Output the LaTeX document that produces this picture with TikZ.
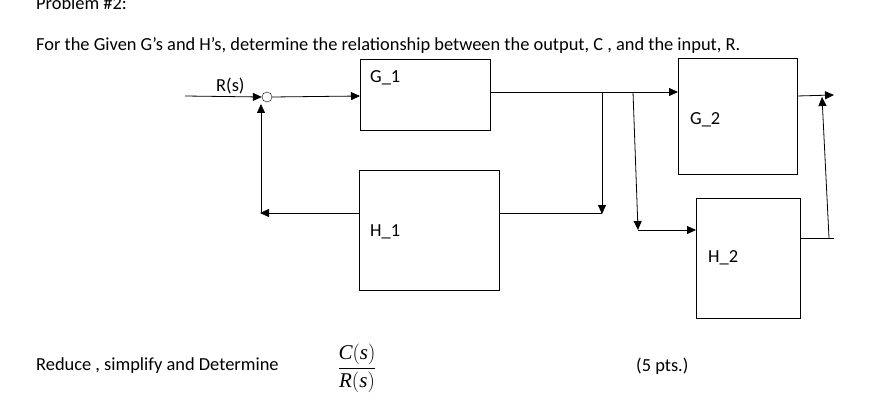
\documentclass[tikz,border=0pt]{standalone}
\usepackage{fontspec}
\setmainfont{Carlito}
\newfontfamily\tnr{Liberation Serif}
\usetikzlibrary{arrows.meta}
\begin{document}
\begin{tikzpicture}[x=1pt,y=-1pt,
  lbl/.style={font=\fontsize{18.4}{20}\selectfont,anchor=west,inner sep=0pt},
  ar/.style={thick,-{Triangle[length=9pt,width=8pt]}},
  ln/.style={thick}]
\useasboundingbox (0,0) rectangle (880,409);
\node[lbl] (t0) at (36,3) {Problem \#2:};
\node[lbl] (t1) at (36,45) {For the Given G’s and H’s, determine the relationship between the output, C , and the input, R.};
% blocks
\draw[thick] (360,59) rectangle (490,130); \node[lbl] (g1) at (370,78) {G\_1};
\draw[thick] (678,58) rectangle (797,174); \node[lbl] (g2) at (690,120) {G\_2};
\draw[thick] (359,170) rectangle (499,290); \node[lbl] (h1) at (370,232) {H\_1};
\draw[thick] (696,198) rectangle (800,318); \node[lbl] (h2) at (708,258) {H\_2};
\node[draw,circle,minimum size=10pt,inner sep=0pt] (sum) at (267,97) {};
\coordinate (rin) at (185,96);
\node[lbl] (rs) at (216,86) {R(s)};
\draw[ar] (rin) -- (sum.west);
\draw[ar] (sum.east) -- (360,96);
\draw[ar] (490,92) -- (678,92);
\draw[ar] (602,92) -- (602,214);
\draw[ln] (499,213) -- (602,213);
\draw[ar] (359,213) -- (260,213);
\draw[ar] (261,213) -- (261,104);
\draw[ar] (633,92) -- (638,230);
\draw[ar] (638,230) -- (696,230);
\draw[ar] (797,96) -- (834,95);
\draw[ln] (800,238) -- (834,238);
\draw[ar] (829,238) -- (822,97);
% bottom
\node[lbl] (t2) at (36,366) {Reduce , simplify and Determine};
\node (fr) at (357,368) {\tnr\fontsize{21}{24}\selectfont$\displaystyle\frac{\textit{C}(\textit{s})}{\textit{R}(\textit{s})}$};
\node[lbl] (t3) at (636,366) {(5 pts.)};
\end{tikzpicture}
\end{document}
